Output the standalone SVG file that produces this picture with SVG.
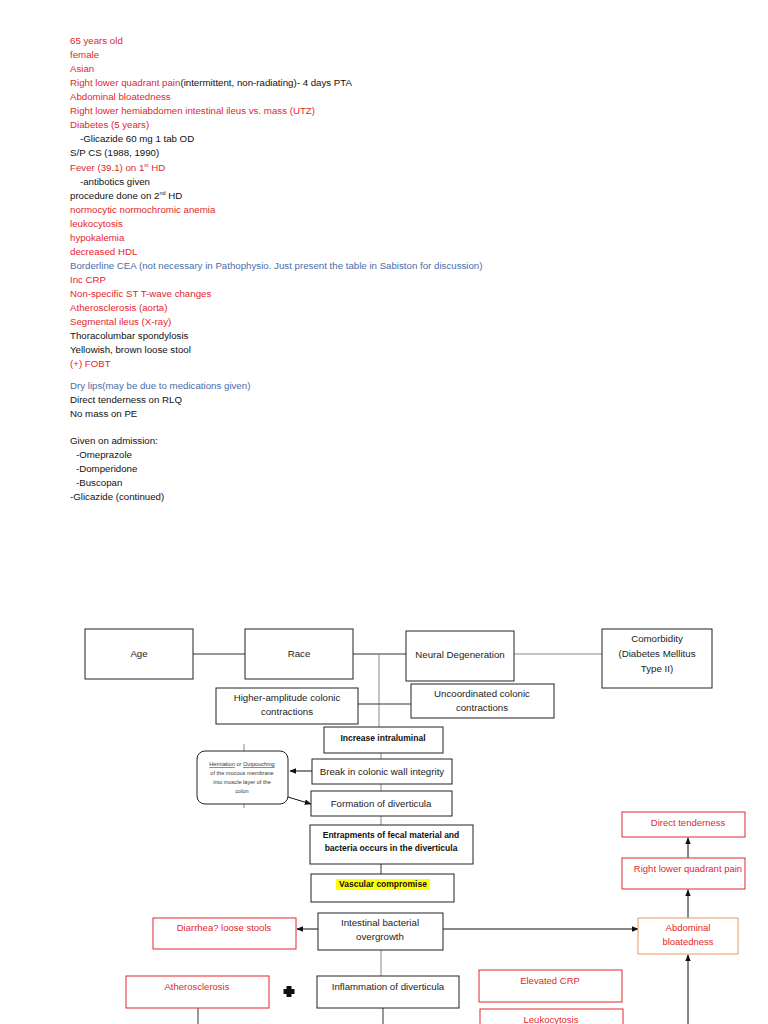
<svg xmlns="http://www.w3.org/2000/svg" width="768" height="1024" viewBox="0 0 768 1024">
<defs>
<style>
text{font-family:"Liberation Sans",Arial,sans-serif;}
.n{font-size:9.7px;fill:#111;}
.r{font-size:9.7px;fill:#e3262c;}
.b{font-size:9.7px;fill:#4a6ea8;}
.bx{fill:#fff;stroke:#222;stroke-width:1;}
.rbx{fill:#fff;stroke:#e3262c;stroke-width:1;}
.obx{fill:#fff;stroke:#e8975f;stroke-width:1;}
.t{font-size:9.7px;fill:#222;text-anchor:middle;}
.tb{font-size:8.5px;fill:#111;text-anchor:middle;font-weight:bold;}
.tr{font-size:9.5px;fill:#e3262c;text-anchor:middle;}
.ln{stroke:#333;stroke-width:1;fill:none;}
.gl{stroke:#888;stroke-width:1;fill:none;}
.ar{stroke:#111;stroke-width:1;fill:none;marker-end:url(#ah);}
.sm{font-size:5.6px;fill:#333;text-anchor:middle;}
</style>
<marker id="ah" viewBox="0 0 10 10" refX="9" refY="5" markerWidth="7" markerHeight="7" orient="auto" markerUnits="userSpaceOnUse">
<path d="M0,1 L10,5 L0,9 z" fill="#111"/>
</marker>
<clipPath id="incClip"><rect x="324" y="727" width="119" height="26"/></clipPath>
</defs>

<g id="notes">
<text x="70" y="44" class="r">65 years old</text>
<text x="70" y="58" class="r">female</text>
<text x="70" y="72" class="r">Asian</text>
<text x="70" y="86" class="r">Right lower quadrant pain<tspan fill="#111">(intermittent, non-radiating)- 4 days PTA</tspan></text>
<text x="70" y="100" class="r">Abdominal bloatedness</text>
<text x="70" y="114" class="r">Right lower hemiabdomen intestinal ileus vs. mass (UTZ)</text>
<text x="70" y="128" class="r">Diabetes (5 years)</text>
<text x="80" y="142" class="n">-Glicazide 60 mg 1 tab OD</text>
<text x="70" y="156" class="n">S/P CS (1988, 1990)</text>
<text x="70" y="171" class="r">Fever (39.1) on 1<tspan font-size="5.5" dy="-4">st</tspan><tspan dy="4"> HD</tspan></text>
<text x="80" y="185" class="n">-antibotics given</text>
<text x="70" y="199" class="n">procedure done on 2<tspan font-size="5.5" dy="-4">nd</tspan><tspan dy="4"> HD</tspan></text>
<text x="70" y="213" class="r">normocytic normochromic anemia</text>
<text x="70" y="227" class="r">leukocytosis</text>
<text x="70" y="241" class="r">hypokalemia</text>
<text x="70" y="255" class="r">decreased HDL</text>
<text x="70" y="269" class="b">Borderline CEA (not necessary in Pathophysio. Just present the table in Sabiston for discussion)</text>
<text x="70" y="283" class="r">Inc CRP</text>
<text x="70" y="297" class="r">Non-specific ST T-wave changes</text>
<text x="70" y="311" class="r">Atherosclerosis (aorta)</text>
<text x="70" y="325" class="r">Segmental ileus (X-ray)</text>
<text x="70" y="339" class="n">Thoracolumbar spondylosis</text>
<text x="70" y="353" class="n">Yellowish, brown loose stool</text>
<text x="70" y="367" class="r">(+) FOBT</text>
<text x="70" y="389" class="b">Dry lips(may be due to medications given)</text>
<text x="70" y="403" class="n">Direct tenderness on RLQ</text>
<text x="70" y="417" class="n">No mass on PE</text>
<text x="70" y="444" class="n">Given on admission:</text>
<text x="76" y="458" class="n">-Omeprazole</text>
<text x="76" y="472" class="n">-Domperidone</text>
<text x="76" y="486" class="n">-Buscopan</text>
<text x="70" y="500" class="n">-Glicazide (continued)</text>
</g>

<g id="connectors">
<line class="ln" x1="193" y1="654" x2="245" y2="654"/>
<line class="ln" x1="353" y1="654" x2="406" y2="654"/>
<line class="gl" x1="514" y1="654" x2="602" y2="654"/>
<line class="gl" x1="379" y1="654" x2="379" y2="727"/>
<line class="ln" x1="358" y1="704" x2="411" y2="704"/>
<line class="gl" x1="381" y1="753" x2="381" y2="759"/>
<line class="gl" x1="381" y1="784" x2="381" y2="791"/>
<line class="gl" x1="381" y1="816" x2="381" y2="825"/>
<line class="ln" x1="381" y1="864" x2="381" y2="874"/>
<line class="gl" x1="244" y1="744" x2="244" y2="751"/>
<line class="gl" x1="244" y1="804" x2="244" y2="808"/>
<line class="ar" x1="312" y1="771" x2="290" y2="771"/>
<line class="ar" x1="288" y1="797" x2="311" y2="804"/>
<line class="ar" x1="318" y1="929" x2="297" y2="929"/>
<line class="ar" x1="443" y1="929" x2="638" y2="929"/>
<line class="ar" x1="688" y1="858" x2="688" y2="838"/>
<line class="ar" x1="688" y1="918" x2="688" y2="890"/>
<line class="ar" x1="688" y1="1024" x2="688" y2="955"/>
<line class="gl" x1="381" y1="950" x2="381" y2="976"/>
<line class="ln" x1="198" y1="1008" x2="198" y2="1024"/>
<line class="ln" x1="383" y1="1008" x2="383" y2="1024"/>
</g>

<g id="age"><rect class="bx" x="85" y="629" width="108" height="50"/><text class="t" x="139" y="657">Age</text></g>
<g id="race"><rect class="bx" x="245" y="629" width="108" height="50"/><text class="t" x="299" y="657">Race</text></g>
<g id="neural"><rect class="bx" x="406" y="631" width="108" height="50"/><text class="t" x="460" y="658">Neural Degeneration</text></g>
<g id="comorbidity"><rect class="bx" x="602" y="629" width="110" height="59"/>
<text class="t" x="657" y="642">Comorbidity</text><text class="t" x="657" y="657">(Diabetes Mellitus</text><text class="t" x="657" y="672">Type II)</text></g>
<g id="higher"><rect class="bx" x="216" y="688" width="142" height="36"/>
<text class="t" x="287" y="701">Higher-amplitude colonic</text><text class="t" x="287" y="715">contractions</text></g>
<g id="uncoord"><rect class="bx" x="411" y="684" width="143" height="34"/>
<text class="t" x="482" y="697">Uncoordinated colonic</text><text class="t" x="482" y="711">contractions</text></g>
<g id="increase"><rect class="bx" x="324" y="727" width="119" height="26"/>
<g clip-path="url(#incClip)"><text class="tb" x="383" y="741">Increase intraluminal</text><text class="tb" x="383" y="759">pressure</text></g></g>
<g id="break"><rect class="bx" x="312" y="759" width="140" height="25"/><text class="t" x="382" y="775" font-size="10.5">Break in colonic wall integrity</text></g>
<g id="herniation"><rect class="bx" x="197" y="751" width="91" height="53" rx="8" stroke="#666"/>
<text class="sm" x="242" y="766"><tspan text-decoration="underline">Herniation</tspan> or <tspan text-decoration="underline">Outpouching</tspan></text>
<text class="sm" x="242" y="775">of the mucous membrane</text>
<text class="sm" x="242" y="784">into muscle layer of the</text>
<text class="sm" x="242" y="793">colon</text></g>
<g id="formation"><rect class="bx" x="311" y="791" width="141" height="25"/><text class="t" x="381" y="807" font-size="10.5">Formation of diverticula</text></g>
<g id="entrapments"><rect class="bx" x="310" y="825" width="163" height="39"/>
<text class="tb" x="391" y="838" font-size="8">Entrapments of fecal material and</text><text class="tb" x="391" y="851" font-size="8">bacteria occurs in the diverticula</text></g>
<g id="vascular"><rect class="bx" x="311" y="874" width="143" height="28"/>
<rect x="336" y="879" width="94" height="11" fill="#ffff00"/>
<text class="tb" x="383" y="887">Vascular compromise</text></g>
<g id="overgrowth"><rect class="bx" x="318" y="913" width="125" height="37"/>
<text class="t" x="380" y="926">Intestinal bacterial</text><text class="t" x="380" y="940">overgrowth</text></g>
<g id="diarrhea"><rect class="rbx" x="153" y="918" width="143" height="31"/><text class="tr" x="224" y="931">Diarrhea? loose stools</text></g>
<g id="bloatedness"><rect class="obx" x="638" y="918" width="100" height="36"/>
<text class="tr" x="688" y="931">Abdominal</text><text class="tr" x="688" y="945">bloatedness</text></g>
<g id="rlqpain"><rect class="rbx" x="622" y="858" width="123" height="31"/><text class="tr" x="688" y="872">Right lower quadrant pain</text></g>
<g id="tenderness"><rect class="rbx" x="622" y="812" width="123" height="25"/><text class="tr" x="688" y="826">Direct tenderness</text></g>
<g id="atherosclerosis"><rect class="rbx" x="126" y="976" width="143" height="32"/><text class="tr" x="197" y="990">Atherosclerosis</text></g>
<g id="plus"><path d="M286.5,986 h5 v3 h3 v5 h-3 v3 h-5 v-3 h-3 v-5 h3 z" fill="#111"/></g>
<g id="inflammation"><rect class="bx" x="317" y="976" width="142" height="32"/><text class="t" x="388" y="990">Inflammation of diverticula</text></g>
<g id="crp"><rect class="rbx" x="479" y="970" width="143" height="32"/><text class="tr" x="550" y="984">Elevated CRP</text></g>
<g id="leukocytosis"><rect class="rbx" x="480" y="1009" width="143" height="30"/><text class="tr" x="551" y="1023">Leukocytosis</text></g>
</svg>
